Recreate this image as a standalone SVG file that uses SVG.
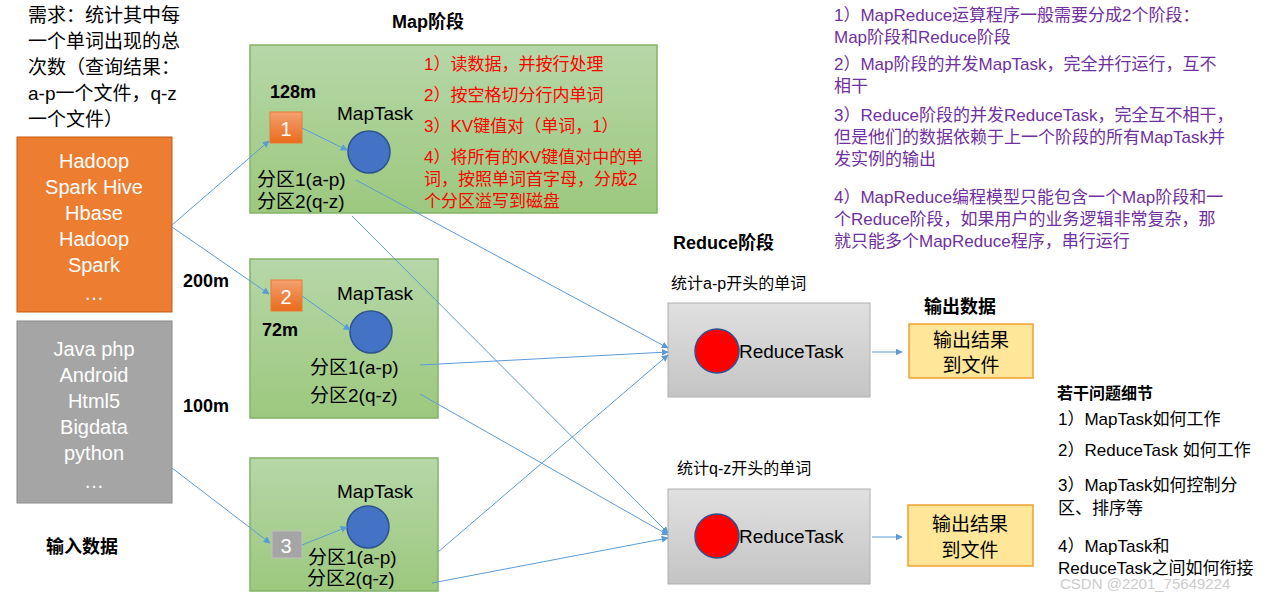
<svg xmlns="http://www.w3.org/2000/svg" width="1280" height="599" viewBox="0 0 1280 599">
<defs>
<linearGradient id="g" x1="0" y1="0" x2="0" y2="1"><stop offset="0" stop-color="#b6d7a8"/><stop offset="1" stop-color="#9cc87e"/></linearGradient>
<linearGradient id="gr" x1="0" y1="0" x2="0" y2="1"><stop offset="0" stop-color="#e0e0e0"/><stop offset="1" stop-color="#c4c4c4"/></linearGradient>
<linearGradient id="ob" x1="0" y1="0" x2="0" y2="1"><stop offset="0" stop-color="#f4a070"/><stop offset="1" stop-color="#e96a1c"/></linearGradient>
<marker id="a" viewBox="0 0 10 10" refX="9" refY="5" markerWidth="7" markerHeight="7" orient="auto"><path d="M0,0L10,5L0,10z" fill="#5b9bd5"/></marker>
<style>
text{font-family:"Liberation Sans","Noto Sans CJK SC",sans-serif;}
.map{fill:url(#g);stroke:#82b366;stroke-width:1.5}
.red{fill:url(#gr);stroke:#b0b0b0}
.c{fill:#4472c4;stroke:#2f528f;stroke-width:1.5}
.rc{fill:#ff0000;stroke:#2f528f;stroke-width:1.5}
.out{fill:#ffe699;stroke:#f0a030;stroke-width:1.5}
.k{font-size:19px;fill:#000}
.b{font-size:18px;font-weight:bold;fill:#000}
.r{font-size:17px;fill:#ff0000}
.p{font-size:17px;fill:#7030a0}
.w{font-size:20px;fill:#fff}
.conn line{stroke:#5b9bd5;stroke-width:1;marker-end:url(#a)}
</style>
</defs>
<rect width="1280" height="599" fill="#fff"/>
<g id="req"><text class="k" x="28" y="22">需求：统计其中每</text><text class="k" x="28" y="48">一个单词出现的总</text><text class="k" x="28" y="74">次数（查询结果：</text><text class="k" x="28" y="100">a-p一个文件，q-z</text><text class="k" x="28" y="126">一个文件）</text></g>
<g id="input1"><rect x="17" y="137" width="155" height="175" fill="#ed7d31" stroke="#c55a11"/>
<g text-anchor="middle"><text class="w" x="94" y="168">Hadoop</text><text class="w" x="94" y="194">Spark Hive</text><text class="w" x="94" y="220">Hbase</text><text class="w" x="94" y="246">Hadoop</text><text class="w" x="94" y="272">Spark</text><text class="w" x="94" y="300">…</text></g></g>
<g id="input2"><rect x="17" y="321" width="155" height="182" fill="#a5a5a5" stroke="#8a8a8a"/>
<g text-anchor="middle"><text class="w" x="94" y="356">Java php</text><text class="w" x="94" y="382">Android</text><text class="w" x="94" y="408">Html5</text><text class="w" x="94" y="434">Bigdata</text><text class="w" x="94" y="460">python</text><text class="w" x="94" y="488">…</text></g></g>
<text class="b" x="46" y="553">输入数据</text>
<text class="b" x="392" y="28">Map阶段</text>
<text class="b" x="183" y="287">200m</text>
<text class="b" x="183" y="412">100m</text>
<g id="map1"><rect class="map" x="250" y="45" width="407" height="168"/>
<text class="b" x="270" y="98">128m</text>
<rect x="270" y="112" width="32" height="31" fill="url(#ob)" stroke="#e97a30"/><text class="w" x="286" y="136" text-anchor="middle">1</text>
<text class="k" x="337" y="120">MapTask</text><circle class="c" cx="369" cy="152" r="21"/>
<text class="k" x="257" y="186">分区1(a-p)</text><text class="k" x="257" y="208">分区2(q-z)</text>
<text class="r" x="424" y="70">1）读数据，并按行处理</text><text class="r" x="424" y="101">2）按空格切分行内单词</text><text class="r" x="424" y="132">3）KV键值对（单词，1）</text><text class="r" x="424" y="163">4）将所有的KV键值对中的单</text><text class="r" x="424" y="185">词，按照单词首字母，分成2</text><text class="r" x="424" y="207">个分区溢写到磁盘</text></g>
<g id="map2"><rect class="map" x="250" y="259" width="188" height="159"/>
<rect x="271" y="280" width="31" height="31" fill="url(#ob)" stroke="#e97a30"/><text class="w" x="286" y="304" text-anchor="middle">2</text>
<text class="b" x="262" y="336">72m</text>
<text class="k" x="337" y="300">MapTask</text><circle class="c" cx="371" cy="332" r="21"/>
<text class="k" x="310" y="374">分区1(a-p)</text><text class="k" x="310" y="402">分区2(q-z)</text></g>
<g id="map3"><rect class="map" x="250" y="458" width="188" height="133"/>
<rect x="272" y="531" width="30" height="27" fill="#a5a5a5" stroke="#bfbfbf"/><text class="w" x="286" y="553" text-anchor="middle">3</text>
<text class="k" x="337" y="498">MapTask</text><circle class="c" cx="368" cy="527" r="21"/>
<text class="k" x="308" y="564">分区1(a-p)</text><text class="k" x="307" y="585">分区2(q-z)</text></g>
<text class="b" x="673" y="249">Reduce阶段</text>
<text x="671" y="289" font-size="16">统计a-p开头的单词</text>
<text x="677" y="474" font-size="16">统计q-z开头的单词</text>
<g id="reduce1"><rect class="red" x="668" y="303" width="202" height="94"/><circle class="rc" cx="717" cy="351" r="22"/><text class="k" x="739" y="358" font-size="20">ReduceTask</text></g>
<g id="reduce2"><rect class="red" x="668" y="489" width="202" height="95"/><circle class="rc" cx="717" cy="536" r="22"/><text class="k" x="739" y="543" font-size="20">ReduceTask</text></g>
<text class="b" x="924" y="313">输出数据</text>
<g id="out1"><rect class="out" x="909" y="324" width="124" height="54"/><text class="k" x="971" y="347" text-anchor="middle">输出结果</text><text class="k" x="971" y="372" text-anchor="middle">到文件</text></g>
<g id="out2"><rect class="out" x="908" y="505" width="125" height="61"/><text class="k" x="970" y="531" text-anchor="middle">输出结果</text><text class="k" x="970" y="557" text-anchor="middle">到文件</text></g>
<g id="notes"><text class="p" x="834" y="21">1）MapReduce运算程序一般需要分成2个阶段：</text><text class="p" x="834" y="43">Map阶段和Reduce阶段</text><text class="p" x="834" y="70">2）Map阶段的并发MapTask，完全并行运行，互不</text><text class="p" x="834" y="92">相干</text><text class="p" x="834" y="121">3）Reduce阶段的并发ReduceTask，完全互不相干，</text><text class="p" x="834" y="143">但是他们的数据依赖于上一个阶段的所有MapTask并</text><text class="p" x="834" y="165">发实例的输出</text><text class="p" x="834" y="203">4）MapReduce编程模型只能包含一个Map阶段和一</text><text class="p" x="834" y="225">个Reduce阶段，如果用户的业务逻辑非常复杂，那</text><text class="p" x="834" y="247">就只能多个MapReduce程序，串行运行</text></g>
<g id="details"><text x="1057" y="399" font-size="16" font-weight="bold">若干问题细节</text><text x="1058" y="425" font-size="17">1）MapTask如何工作</text><text x="1058" y="456" font-size="17">2）ReduceTask 如何工作</text><text x="1058" y="491" font-size="17">3）MapTask如何控制分</text><text x="1058" y="514" font-size="17">区、排序等</text><text x="1058" y="552" font-size="17">4）MapTask和</text><text x="1058" y="574" font-size="17">ReduceTask之间如何衔接</text></g>
<text x="1060" y="589" font-size="15" fill="#cccccc">CSDN @2201_75649224</text>
<g class="conn">
<line x1="172" y1="225" x2="269" y2="141"/>
<line x1="172" y1="227" x2="269" y2="294"/>
<line x1="172" y1="468" x2="270" y2="543"/>
<line x1="302" y1="128" x2="347" y2="150"/>
<line x1="302" y1="296" x2="350" y2="330"/>
<line x1="302" y1="545" x2="347" y2="527"/>
<line x1="356" y1="180" x2="668" y2="348"/>
<line x1="352" y1="216" x2="668" y2="533"/>
<line x1="420" y1="365" x2="668" y2="352"/>
<line x1="420" y1="394" x2="668" y2="535"/>
<line x1="438" y1="552" x2="668" y2="355"/>
<line x1="432" y1="583" x2="668" y2="538"/>
<line x1="872" y1="352" x2="902" y2="352"/>
<line x1="872" y1="537" x2="902" y2="537"/>
</g>
</svg>
